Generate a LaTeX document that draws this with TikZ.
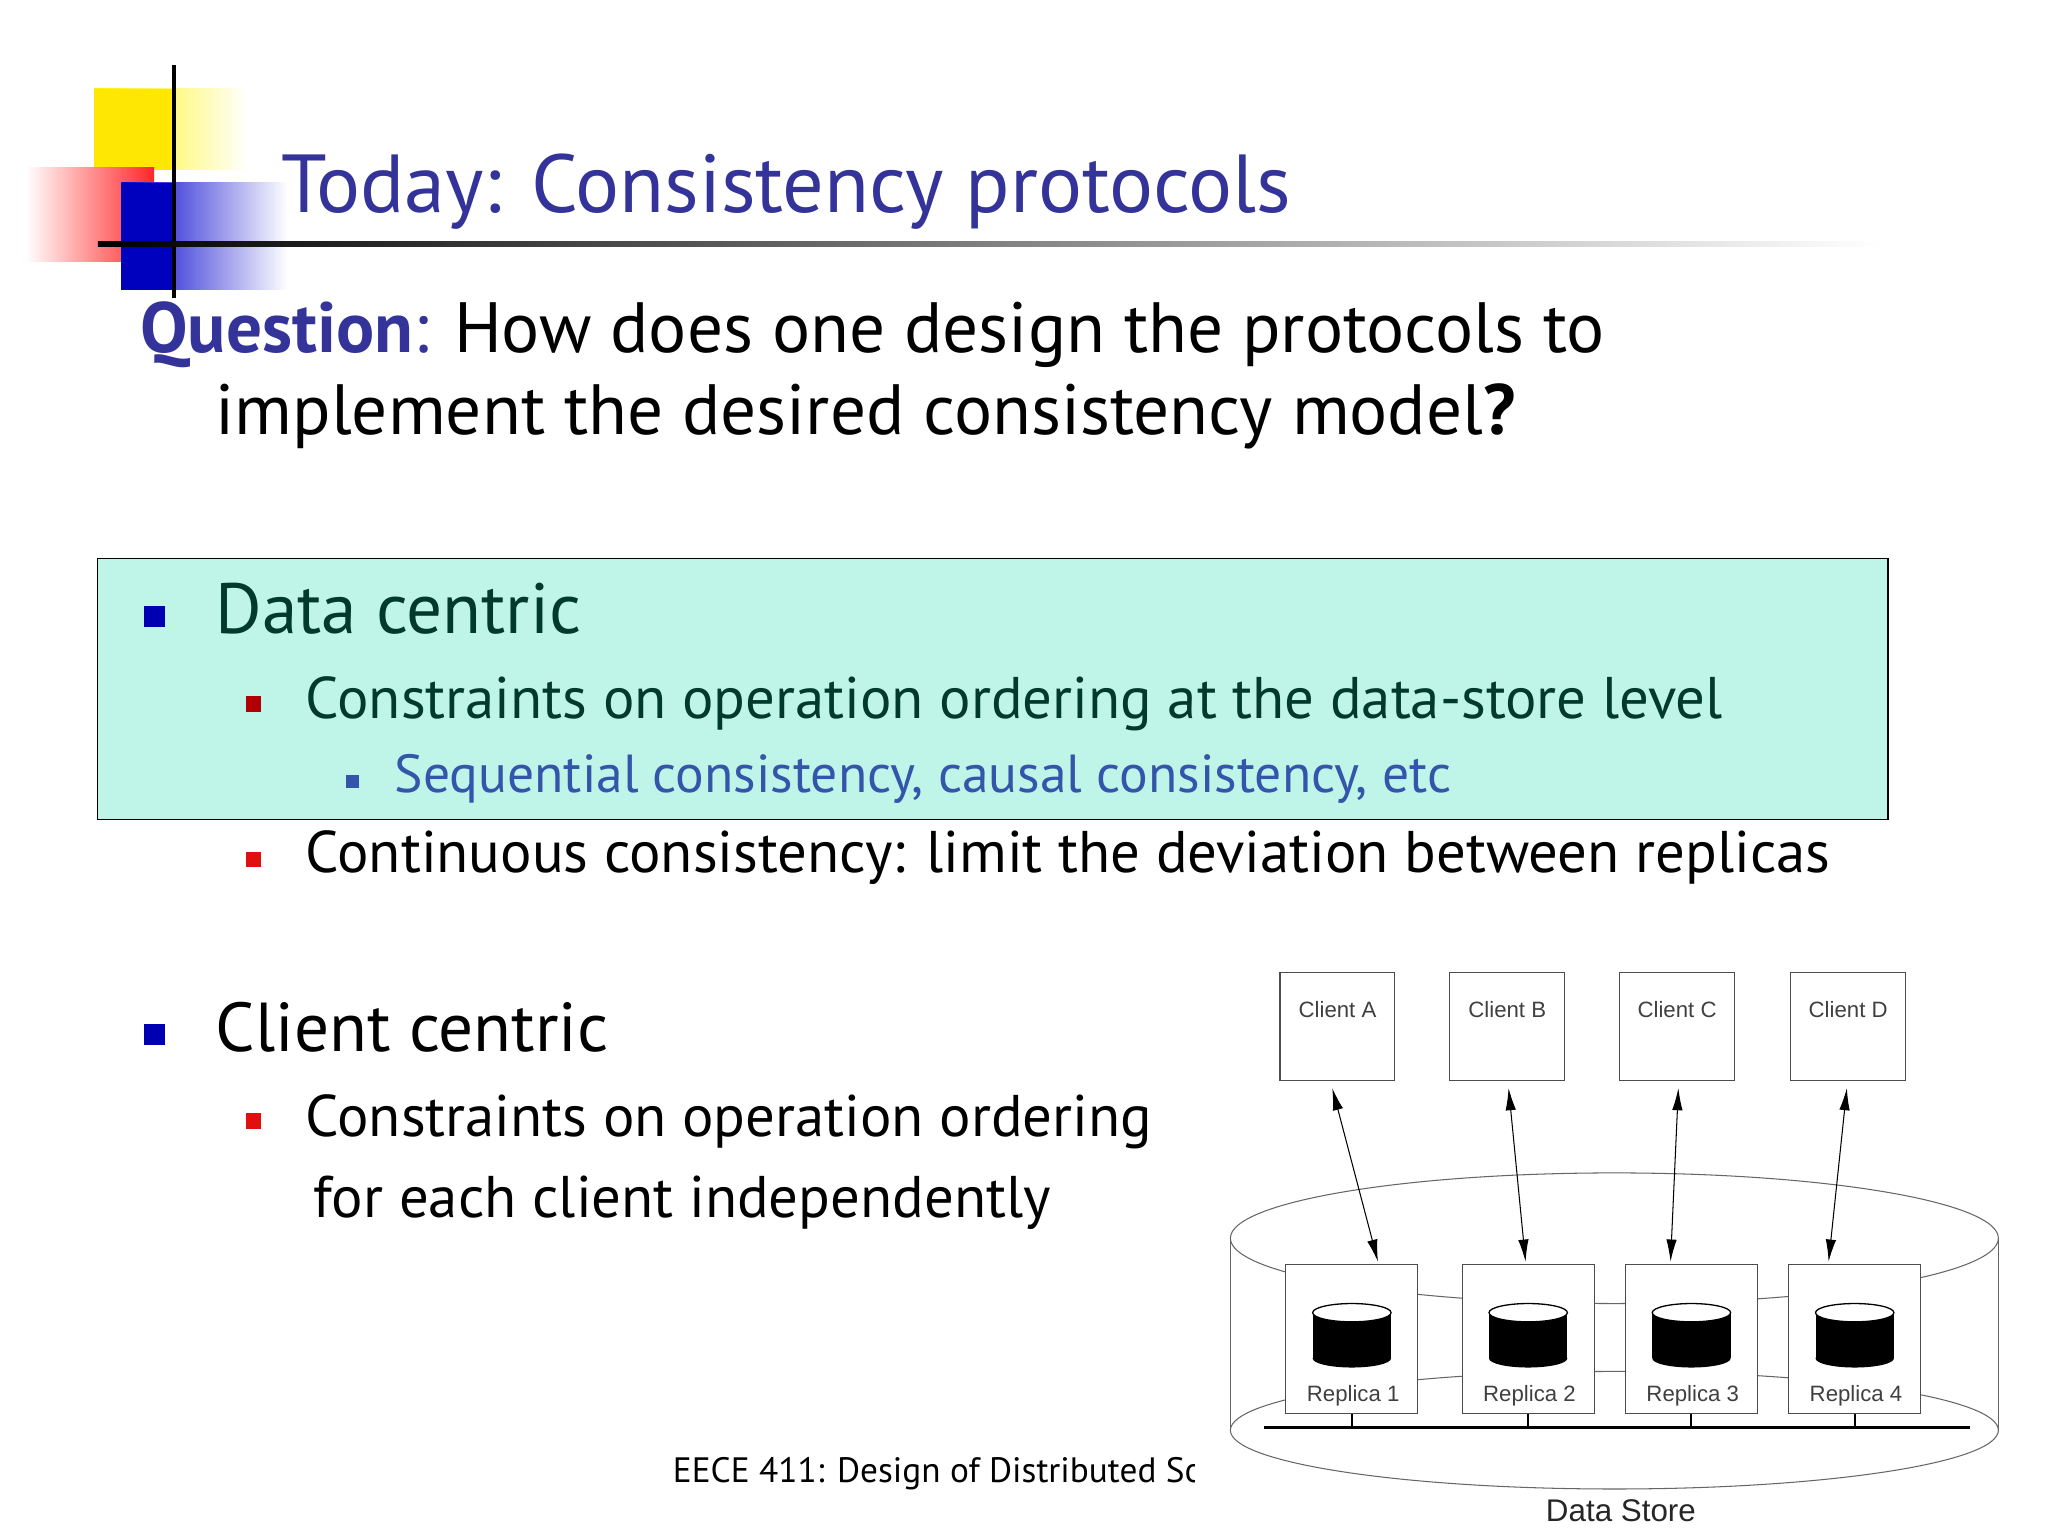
\documentclass[tikz,border=0pt]{standalone}
\usepackage{fontspec}
\setmainfont{PT Sans}
\newfontfamily\arialf{Liberation Sans}
\usetikzlibrary{arrows.meta}
\definecolor{tblue}{HTML}{333399}
\definecolor{teal}{HTML}{BFF5E8}
\definecolor{dgreen}{HTML}{003A2A}
\definecolor{sblue}{HTML}{3355AA}
\definecolor{bred}{HTML}{E01010}
\begin{document}
\begin{tikzpicture}[x=1pt,y=-1pt,
  txt/.style={anchor=base west,inner sep=0pt},
  cbox/.style={draw=black!70,line width=0.8pt,minimum width=88pt,minimum height=83pt},
  rbox/.style={draw=black!70,line width=0.8pt,minimum width=101pt,minimum height=114pt},
  dlabel/.style={font=\arialf\fontsize{17}{19}\selectfont,text=black!75},
  arr/.style={{Latex[length=17pt,width=8pt]}-{Latex[length=17pt,width=8pt]},line width=0.8pt}]
\useasboundingbox (0,0) rectangle (1568,1176);
\fill[white] (0,0) rectangle (1568,1176);
% logo
\shade[left color=yellow!90!orange, right color=white] (72,68) rectangle (190,130);
\fill[yellow!90!orange] (72,68) rectangle (135,130);
\shade[left color=white, right color=red!85] (20,128) rectangle (118,200);
\shade[left color=blue!80!black, right color=white] (93,140) rectangle (220,222);
\fill[blue!75!black] (93,140) rectangle (135,222);
\draw[line width=3pt] (133,50) -- (133,228);
\shade[left color=black, right color=white] (75,185) rectangle (1440,189);
\node[txt,text=tblue,font=\fontsize{63}{70}\selectfont] (title) at (215,163) {Today: Consistency protocols};
% question
\node[txt,font=\fontsize{54.5}{60}\selectfont] (q1) at (107,270) {\textcolor{tblue}{\textbf{Question}:} How does one design the protocols to};
\node[txt,font=\fontsize{54.5}{60}\selectfont] (q2) at (165,333) {implement the desired consistency model\textbf{?}};
% teal box
\node[draw=black,line width=1pt,fill=teal,minimum width=1371pt,minimum height=200pt,anchor=north west,inner sep=0pt] (box) at (74,427) {};
\fill[blue!70!black] (110,464) rectangle (126,480);
\node[txt,text=dgreen,font=\fontsize{54.5}{60}\selectfont] (dc) at (165,485) {Data centric};
\fill[red!70!black] (188,533) rectangle (200,545);
\node[txt,text=dgreen,font=\fontsize{45}{54}\selectfont] (c1) at (234,550) {Constraints on operation ordering at the data-store level};
\fill[sblue] (265,593) rectangle (275,603);
\node[txt,text=sblue,font=\fontsize{41}{48}\selectfont] (sq) at (302,607) {Sequential consistency, causal consistency, etc};
\fill[bred] (188,652) rectangle (200,664);
\node[txt,font=\fontsize{45}{54}\selectfont] (cc) at (234,668) {Continuous consistency: limit the deviation between replicas};
\fill[blue!70!black] (110,784) rectangle (126,800);
\node[txt,font=\fontsize{53}{60}\selectfont] (clc) at (165,805) {Client centric};
\fill[bred] (188,852) rectangle (200,864);
\node[txt,font=\fontsize{45}{54}\selectfont] (c2) at (234,870) {Constraints on operation ordering};
\node[txt,font=\fontsize{45}{54}\selectfont] (c3) at (240,932) {for each client independently};
\begin{scope}
\clip (0,0) rectangle (915,1176);
\node[txt,font=\fontsize{27}{30}\selectfont] (foot) at (515,1135) {EECE 411: Design of Distributed Software};
\end{scope}
% diagram
\fill[white] (915,730) rectangle (1568,1176);
\draw[black!60,line width=0.8pt] (942,948) -- (942,1095);
\draw[black!60,line width=0.8pt] (1530,948) -- (1530,1095);
\draw[black!60,line width=0.8pt] (1236,1095) ellipse (294pt and 45pt);
\draw[black!60,line width=0.8pt] (1236,948) ellipse (294pt and 50pt);
\foreach \n/\x/\l in {A/1024/Client A,B/1154/Client B,C/1284/Client C,D/1415/Client D}{
  \node[cbox] (cl\n) at (\x,786) {};
  \node[dlabel,anchor=north] at (\x,763) {\l};
}
\draw[line width=2.5pt] (968,1093) -- (1508,1093);
\foreach \n/\x in {1/1035,2/1170,3/1295,4/1420}{
  \node[rbox,fill=white] (r\n) at (\x,1025) {};
  \node[dlabel,anchor=base] at (\x+1,1073) {Replica \n};
  \draw[line width=1.5pt] (r\n.south) -- (\x,1093);
  \fill[black] (\x-30,1005) rectangle (\x+30,1040);
  \fill[black] (\x,1040) ellipse (30pt and 7pt);
  \draw[fill=white,line width=1pt] (\x,1005) ellipse (30pt and 7pt);
}
\coordinate (a1) at (1020,833); \coordinate (a2) at (1055,966);
\coordinate (b1) at (1155,833); \coordinate (b2) at (1168,966);
\coordinate (c1x) at (1285,833); \coordinate (c2x) at (1279,966);
\coordinate (d1) at (1414,833); \coordinate (d2) at (1400,966);
\draw[arr] (a1) -- (a2);
\draw[arr] (b1) -- (b2);
\draw[arr] (c1x) -- (c2x);
\draw[arr] (d1) -- (d2);
\node[font=\arialf\fontsize{24}{28}\selectfont,text=black!85,anchor=base] (ds) at (1241,1165) {Data Store};
\end{tikzpicture}
\end{document}
